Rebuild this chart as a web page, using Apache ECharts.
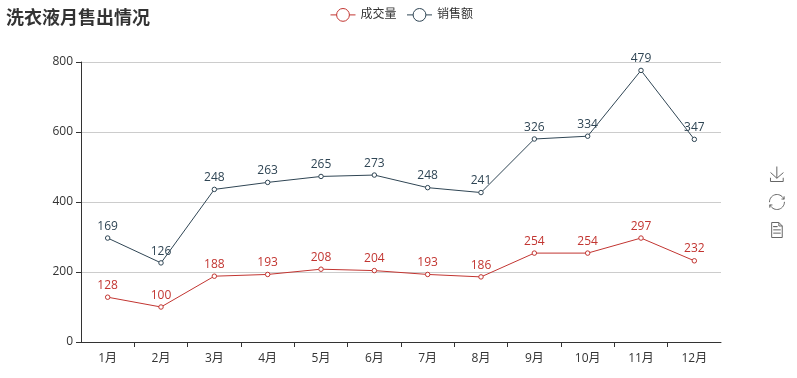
<!DOCTYPE html>
<html><head><meta charset="utf-8">
<style>html,body{margin:0;padding:0;background:#fff}#c{width:797px;height:378px}</style>
<script src="https://cdn.jsdelivr.net/npm/echarts@6/dist/echarts.min.js"></script>
</head><body><div id="c"></div>
<script>
const categories=['1月','2月','3月','4月','5月','6月','7月','8月','9月','10月','11月','12月'];
const volume=[128,100,188,193,208,204,193,186,254,254,297,232];
const sales=[169,126,248,263,265,273,248,241,326,334,479,347];
const yTicks={min:0,max:800,interval:200};
const innerBandEdges=[1,2,3,4,5,6,7,8,9,10,11];
const font='"Open Sans","Noto Sans CJK SC",sans-serif';
const colors=['#c23531','#2f4554'];
const chart=echarts.init(document.getElementById('c'));
function line(name,data,c){return{name,type:'line',stack:'总量',data,
 symbol:'circle',symbolSize:4.5,showSymbol:true,showAllSymbol:true,
 lineStyle:{width:1,color:c},itemStyle:{color:'#fff',borderWidth:1,borderColor:c},
 emphasis:{disabled:true},
 label:{show:true,position:'top',color:c,fontSize:12,fontFamily:font,distance:3}};}
chart.setOption({
 animation:false,color:colors,
 title:{text:'洗衣液月售出情况',left:6,top:10,textStyle:{fontSize:18,fontWeight:'bold',color:'#333',fontFamily:font},padding:0},
 legend:{data:['成交量','销售额'],top:8,left:330,itemGap:10,itemWidth:25,itemHeight:16,
  itemStyle:{color:'#fff',borderWidth:1},lineStyle:{width:1},
  textStyle:{fontSize:12,color:'#333',fontFamily:font},padding:0},
 toolbox:{show:true,orient:'vertical',left:752,top:149,itemSize:15,itemGap:8,
  iconStyle:{borderColor:'#666',color:'none'},
  feature:{saveAsImage:{title:''},restore:{title:''},dataView:{title:''}}},
 grid:{left:81,right:76,top:62,bottom:36,containLabel:false},
 xAxis:[{type:'category',data:categories,boundaryGap:true,
  axisLine:{lineStyle:{color:'#333'}},axisTick:{show:false},
  axisLabel:{color:'#333',fontSize:12,fontFamily:font,interval:0,margin:11},splitLine:{show:false}},
  {type:'value',position:'bottom',min:0,max:categories.length,
  axisLine:{show:false},axisLabel:{show:false},splitLine:{show:false},
  axisTick:{show:true,customValues:innerBandEdges,lineStyle:{color:'#333'}}}],
 yAxis:{type:'value',min:yTicks.min,max:yTicks.max,interval:yTicks.interval,
  axisLine:{show:true,lineStyle:{color:'#333'}},axisTick:{show:true,lineStyle:{color:'#333'}},
  axisLabel:{color:'#333',fontSize:12,fontFamily:font,lineHeight:15},splitLine:{show:true,lineStyle:{color:'#ccc'}}},
 series:[line('成交量',volume,colors[0]),line('销售额',sales,colors[1])]
});
</script></body></html>
